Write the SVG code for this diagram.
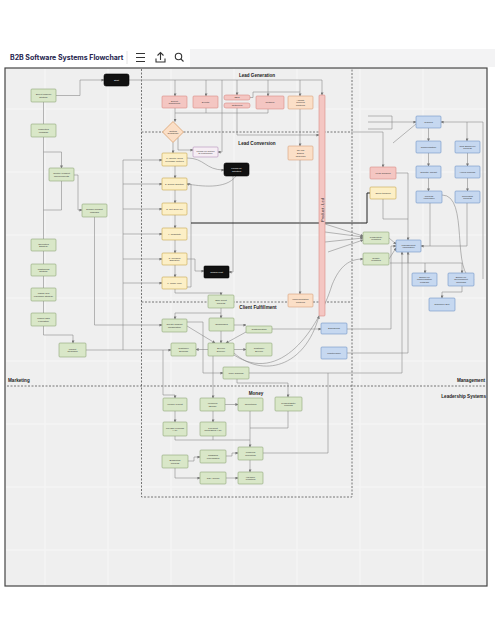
<svg xmlns="http://www.w3.org/2000/svg" width="495" height="640" viewBox="0 0 495 640">
<style>
.g{fill:#d9e7c8;stroke:#8ea577;stroke-width:.6}
.p{fill:#f4c6c2;stroke:#d98a84;stroke-width:.6}
.y{fill:#fcefc6;stroke:#c7a64a;stroke-width:.6}
.b{fill:#c6d8f0;stroke:#6f93c6;stroke-width:.6}
.o{fill:#fbdfc7;stroke:#d7a07a;stroke-width:.6}
.k{fill:#111;stroke:#000;stroke-width:.6}
.l{fill:#f6eef4;stroke:#b48fb8;stroke-width:.6}
text{font-family:"Liberation Sans",Arial,sans-serif}
.t{font-size:2.4px;fill:#333;text-anchor:middle}
.tw{font-size:2.4px;fill:#fff;text-anchor:middle}
.h{font-size:4.6px;font-weight:bold;fill:#222;text-anchor:middle}
.c{fill:none;stroke:#8a8a8a;stroke-width:.6;marker-end:url(#a)}
.n{fill:none;stroke:#8a8a8a;stroke-width:.6}
.d{fill:none;stroke:#555;stroke-width:.8;stroke-dasharray:2 1.5}
.gr{stroke:#f5f5f5;stroke-width:1.5}
</style>
<defs>
<marker id="a" markerUnits="userSpaceOnUse" markerWidth="3" markerHeight="3" refX="2.6" refY="1.5" orient="auto"><path d="M0,0 L3,1.5 L0,3 z" fill="#777"/></marker>
</defs>
<rect width="495" height="640" fill="#fff"/>
<!-- header -->
<rect x="190" y="49" width="305" height="18" fill="#f3f3f4"/>
<text x="10" y="60" font-size="7" font-weight="bold" fill="#24234d" style="font-family:Inter,'Liberation Sans',sans-serif">B2B Software Systems Flowchart</text>
<line x1="127" y1="51" x2="127" y2="64" stroke="#ddd" stroke-width=".8"/>
<g stroke="#333" stroke-width="1.1" fill="none">
<path d="M136,53.5H145M136,57.5H145M136,61.5H145"/>
<path d="M160.5,60V52.5M157.5,55.5L160.5,52.5L163.5,55.5M156,58.5V62H165V58.5"/>
<circle cx="178.5" cy="56.5" r="3.2"/><path d="M180.8,58.8L183.5,61.5"/>
</g>
<!-- frame -->
<rect x="5" y="68" width="482" height="518" fill="#efefef" stroke="#444" stroke-width="1.2"/>
<g class="gr">
<line x1="45" y1="69" x2="45" y2="585"/><line x1="108" y1="69" x2="108" y2="585"/><line x1="171" y1="69" x2="171" y2="585"/><line x1="234" y1="69" x2="234" y2="585"/><line x1="297" y1="69" x2="297" y2="585"/><line x1="360" y1="69" x2="360" y2="585"/><line x1="423" y1="69" x2="423" y2="585"/>
<line x1="6" y1="109" x2="486" y2="109"/><line x1="6" y1="172" x2="486" y2="172"/><line x1="6" y1="235" x2="486" y2="235"/><line x1="6" y1="298" x2="486" y2="298"/><line x1="6" y1="361" x2="486" y2="361"/><line x1="6" y1="424" x2="486" y2="424"/><line x1="6" y1="487" x2="486" y2="487"/><line x1="6" y1="550" x2="486" y2="550"/>
</g>
<!-- section boundaries -->
<g id="sections">
<path class="d" d="M141.5,69V497H352V69"/>
<path class="d" d="M141.5,132H352"/>
<path class="d" d="M141.5,302H352"/>
<path class="d" d="M7,386H485"/>
<text class="h" x="257" y="77">Lead Generation</text>
<text class="h" x="257" y="145">Lead Conversion</text>
<text class="h" x="258" y="309" font-size="5">Client Fulfillment</text>
<text class="h" x="256" y="395">Money</text>
<text class="h" x="8" y="382" style="text-anchor:start">Marketing</text>
<text class="h" x="485" y="382" style="text-anchor:end">Management</text>
<text class="h" x="486" y="398" style="text-anchor:end">Leadership Systems</text>
</g>
<!-- connectors -->
<g id="connectors">
<path class="c" d="M56,95.5H80V80H104"/>
<path class="c" d="M129,80H322V95"/>
<path class="c" d="M175,80V96"/><path class="c" d="M206,80V96"/><path class="c" d="M237,80V95"/><path class="c" d="M268,80V96"/><path class="c" d="M300,80V96"/>
<path class="c" d="M222,80V152H218"/>
<path class="n" d="M250,97.5H253V92H300"/>
<path class="n" d="M206,108V113"/><path class="c" d="M268,109V113H175V121.5"/>
<path class="n" d="M175,108V113"/>
<path class="c" d="M237,108V135H319"/>
<path class="c" d="M300,109V146"/>
<path class="c" d="M173,142.5V153"/>
<path class="c" d="M178,137.5V150H193"/>
<path class="c" d="M352,132H383V167"/>
<path class="c" d="M175,166V178"/><path class="c" d="M175,190V203"/><path class="c" d="M175,215V228"/><path class="c" d="M175,240V253"/><path class="c" d="M175,265V277"/>
<path class="n" d="M86,350H123V160"/>
<path class="c" d="M123,160H162"/><path class="c" d="M123,184H162"/><path class="c" d="M123,209H162"/><path class="c" d="M123,234H162"/><path class="c" d="M123,259H162"/><path class="c" d="M123,283H162"/>
<path class="c" d="M123,350H171"/>
<path class="c" d="M163,350V395H175V398"/>
<path class="n" d="M43.5,102V124"/><path class="n" d="M43.5,137V239"/><path class="n" d="M43.5,251V264"/><path class="n" d="M43.5,276V288"/><path class="n" d="M43.5,301V313"/>
<path class="c" d="M43.5,152H61.5V168"/>
<path class="n" d="M61.5,181V210H43.5"/>
<path class="c" d="M74,175H78V210H82"/>
<path class="c" d="M43.5,326V335H73V343"/>
<path class="c" d="M94.5,217V325H162"/>
<path class="c" d="M187,158C205,158 205,170 224,170"/>
<path class="c" d="M236,176C226,190 200,186 187,184"/>
<path class="c" d="M233,176V272H229"/>
<path class="c" d="M187,259H195V271H204"/>
<path class="n" d="M187,184H191V287H187"/>
<path d="M191,223H367V193H370" fill="none" stroke="#222" stroke-width="1"/>
<path class="c" d="M175,289V293H221V295"/>
<path class="c" d="M300,160V294"/>
<path class="c" d="M221,308V318"/>
<path class="c" d="M221,313H175V319"/>
<path class="c" d="M187,326L215,343"/>
<path class="c" d="M187,322H203V373H223"/>
<path class="c" d="M221,331V343"/>
<path class="c" d="M234,325H246"/>
<path class="c" d="M246,332L226,343"/>
<path class="c" d="M272,329H321"/>
<path class="c" d="M208,349.5H196"/>
<path class="c" d="M234,349.5H246"/>
<path class="c" d="M213,356V398"/>
<path class="c" d="M237,379V383H288V397"/>
<path class="c" d="M249,373H402V252"/>
<path class="c" d="M347,353H408V252"/>
<path class="c" d="M347,329H391V246H396"/>
<path class="c" d="M234,353C262,378 305,368 319,316"/>
<path class="c" d="M234,355C280,385 318,330 332,285C340,265 350,259 363,259"/>
<path class="c" d="M325,224L363,236"/><path class="c" d="M325,232L363,237"/><path class="c" d="M325,242L363,238"/><path class="c" d="M328,252L363,240"/>
<path class="c" d="M389,238L396,244"/><path class="c" d="M389,259L396,248"/>
<path class="c" d="M175,411V422"/><path class="c" d="M213,411V422"/><path class="c" d="M225,404.5H238"/>
<path class="n" d="M175,436V440H250"/><path class="n" d="M213,436V440"/>
<path class="c" d="M250,411V447"/>
<path class="n" d="M288,411V428H250"/>
<path class="c" d="M188,461H194V457H200"/>
<path class="c" d="M175,468V478H200"/>
<path class="c" d="M226,478H238"/>
<path class="c" d="M226,456H232V453H238"/>
<path class="c" d="M250,460V472"/>
<path class="n" d="M263,453H328V373"/>
<path class="c" d="M396,173H408V240"/>
<path class="n" d="M383,199V219H408"/>
<path class="n" d="M408,252V263"/>
<path class="n" d="M390,263H462"/><path class="c" d="M425,263V273"/><path class="c" d="M462,263V273"/>
<path class="c" d="M430,203V246H421"/>
<path class="n" d="M467,203V246H430"/>
<path class="c" d="M442,195C470,195 450,275 474,280"/>
<path class="c" d="M483,279V122H441"/>
<path class="c" d="M467,122V141"/>
<path class="c" d="M428.5,128V141"/><path class="c" d="M428.5,153V166"/><path class="c" d="M428.5,178V191"/>
<path class="c" d="M467.5,153V166"/><path class="c" d="M467.5,178V191"/>
<path class="n" d="M368,116H392M368,122H392M368,129H392M392,116V129"/>
<path class="c" d="M392,122H416"/>
<path class="n" d="M416,124L393,143"/>
<path class="c" d="M462,286V292H442V298"/>
</g>
<!-- marketing -->
<g id="mk1"><rect class="g" x="31" y="89" width="25" height="13" rx="1"/><text class="t"><tspan x="43.5" y="95">Select channel</tspan><tspan x="43.5" y="97.8">strategy</tspan></text></g>
<g id="mk2"><rect class="g" x="31" y="124" width="25" height="13" rx="1"/><text class="t"><tspan x="43.5" y="130">Marketing</tspan><tspan x="43.5" y="132.8">Message</tspan></text></g>
<g id="mk3"><rect class="g" x="49" y="168" width="25" height="13" rx="1"/><text class="t"><tspan x="61.5" y="174">Identify Product</tspan><tspan x="61.5" y="176.8">Improvements</tspan></text></g>
<g id="mk4"><rect class="g" x="82" y="204" width="25" height="13" rx="1"/><text class="t"><tspan x="94.5" y="210">Design Product</tspan><tspan x="94.5" y="212.8">changes</tspan></text></g>
<g id="mk5"><rect class="g" x="31" y="239" width="25" height="12" rx="1"/><text class="t"><tspan x="43.5" y="244.5">Operating</tspan><tspan x="43.5" y="247.3">Strategy</tspan></text></g>
<g id="mk6"><rect class="g" x="31" y="264" width="25" height="12" rx="1"/><text class="t"><tspan x="43.5" y="269.5">Positioning</tspan><tspan x="43.5" y="272.3">strategy</tspan></text></g>
<g id="mk7"><rect class="g" x="31" y="288" width="25" height="13" rx="1"/><text class="t"><tspan x="43.5" y="294">Usage and</tspan><tspan x="43.5" y="296.8">economic strategy</tspan></text></g>
<g id="mk8"><rect class="g" x="31" y="313" width="25" height="13" rx="1"/><text class="t"><tspan x="43.5" y="319">Market data</tspan><tspan x="43.5" y="321.8">evaluation</tspan></text></g>
<g id="mk9"><rect class="g" x="59" y="343" width="27" height="14" rx="1"/><text class="t"><tspan x="72.5" y="349.5">Market</tspan><tspan x="72.5" y="352.3">Research</tspan></text></g>
<g id="start"><rect class="k" x="104" y="74" width="25" height="12" rx="2"/><text class="tw" x="116.5" y="80.9">Start</text></g>
<!-- lead generation -->
<g id="lg1"><rect class="p" x="162" y="96" width="25" height="12" rx="1"/><text class="t"><tspan x="174.5" y="101.5">Expert</tspan><tspan x="174.5" y="104.3">Community</tspan></text></g>
<g id="lg2"><rect class="p" x="193" y="96" width="25" height="12" rx="1"/><text class="t" x="205.5" y="102.9">Events</text></g>
<g id="lg3"><rect class="p" x="224" y="95" width="26" height="5" rx="2"/><text class="t" x="237" y="98.4">SEO</text></g>
<g id="lg4"><rect class="p" x="224" y="103" width="26" height="5" rx="2"/><text class="t" x="237" y="106.4">Outbound</text></g>
<g id="lg5"><rect class="p" x="256" y="96" width="28" height="13" rx="1"/><text class="t" x="270" y="103.4">Network</text></g>
<g id="lg6"><rect class="o" x="288" y="96" width="25" height="13" rx="1"/><text class="t"><tspan x="300.5" y="100.6">Affiliate</tspan><tspan x="300.5" y="103.4">Referral</tspan><tspan x="300.5" y="106.2">Partners</tspan></text></g>
<g id="plg"><rect class="p" x="319" y="95" width="6" height="221" rx="1"/><text class="t" transform="translate(323.5,210) rotate(-90)" x="0" y="0" style="font-size:4px">Product - Led</text></g>
<g id="qual"><path class="o" d="M173,121.5L183.5,132L173,142.5L162.5,132Z" style="stroke:#d08a4a"/><text class="t"><tspan x="173" y="131.5">Getting</tspan><tspan x="173" y="134.3">Qualified?</tspan></text></g>
<g id="fu"><rect class="l" x="193" y="147" width="25" height="10" rx="1"/><text class="t"><tspan x="205.5" y="151.5">Follow-up Return</tspan><tspan x="205.5" y="154.3">to nurturance</tspan></text></g>
<g id="oc"><rect class="o" x="288" y="146" width="25" height="14" rx="1"/><text class="t"><tspan x="300.5" y="151.1">On-call</tspan><tspan x="300.5" y="153.9">Based</tspan><tspan x="300.5" y="156.7">Referrals</tspan></text></g>
<!-- lead conversion -->
<g id="c1"><rect class="y" x="162" y="153" width="25" height="13" rx="1"/><text class="t"><tspan x="174.5" y="159">1. Identify Need</tspan><tspan x="174.5" y="161.8">Purchase Criteria</tspan></text></g>
<g id="c2"><rect class="y" x="162" y="178" width="25" height="12" rx="1"/><text class="t" x="174.5" y="184.9">2. Define Solution</text></g>
<g id="c3"><rect class="y" x="162" y="203" width="25" height="12" rx="1"/><text class="t" x="174.5" y="209.9">3. Get Tech Ver</text></g>
<g id="c4"><rect class="y" x="162" y="228" width="25" height="12" rx="1"/><text class="t" x="174.5" y="234.9">4. Negotiate</text></g>
<g id="c5"><rect class="y" x="162" y="253" width="25" height="12" rx="1"/><text class="t"><tspan x="174.5" y="258.5">5. Pending</tspan><tspan x="174.5" y="261.3">Signature</tspan></text></g>
<g id="c6"><rect class="y" x="162" y="277" width="25" height="12" rx="1"/><text class="t" x="174.5" y="283.9">6. Close Won</text></g>
<g id="fa"><rect class="k" x="224" y="163" width="25" height="13" rx="2"/><text class="tw"><tspan x="236.5" y="169">Follow-up</tspan><tspan x="236.5" y="171.8">activities</tspan></text></g>
<g id="cl"><rect class="k" x="204" y="266" width="25" height="12" rx="1"/><text class="tw" x="216.5" y="272.9">Closed Lost</text></g>
<!-- client fulfillment -->
<g id="sc"><rect class="g" x="208" y="295" width="26" height="13" rx="1"/><text class="t"><tspan x="221" y="301">Sign Client</tspan><tspan x="221" y="303.8">Process</tspan></text></g>
<g id="ip"><rect class="o" x="288" y="294" width="25" height="13" rx="1"/><text class="t"><tspan x="300.5" y="300">Implementation</tspan><tspan x="300.5" y="302.8">Partners</tspan></text></g>
<g id="f1"><rect class="g" x="162" y="319" width="25" height="13" rx="1"/><text class="t"><tspan x="174.5" y="325">Create product</tspan><tspan x="174.5" y="327.8">modification</tspan></text></g>
<g id="f2"><rect class="g" x="209" y="318" width="25" height="13" rx="1"/><text class="t" x="221.5" y="325.4">Onboarding</text></g>
<g id="f3"><rect class="g" x="246" y="326" width="26" height="7" rx="1"/><text class="t" x="259" y="330.4">Customization</text></g>
<g id="f4"><rect class="g" x="171" y="343" width="25" height="13" rx="1"/><text class="t"><tspan x="183.5" y="349">Customer</tspan><tspan x="183.5" y="351.8">Success</tspan></text></g>
<g id="f5"><rect class="g" x="208" y="343" width="26" height="13" rx="1"/><text class="t"><tspan x="221" y="349">Service</tspan><tspan x="221" y="351.8">Delivery</tspan></text></g>
<g id="f6"><rect class="g" x="246" y="343" width="26" height="13" rx="1"/><text class="t"><tspan x="259" y="349">Customer</tspan><tspan x="259" y="351.8">Service</tspan></text></g>
<g id="f7"><rect class="g" x="223" y="367" width="26" height="12" rx="1"/><text class="t" x="236" y="373.9">Time Tracking</text></g>
<!-- money -->
<g id="m1"><rect class="g" x="163" y="398" width="24" height="13" rx="1"/><text class="t" x="175" y="405.4">Invoice receipt</text></g>
<g id="m2"><rect class="g" x="200" y="398" width="25" height="13" rx="1"/><text class="t"><tspan x="212.5" y="404">Invoicing</tspan><tspan x="212.5" y="406.8">(Billing)</tspan></text></g>
<g id="m3"><rect class="g" x="238" y="398" width="25" height="13" rx="1"/><text class="t" x="250.5" y="405.4">Collections</text></g>
<g id="m4"><rect class="g" x="275" y="397" width="27" height="14" rx="1"/><text class="t"><tspan x="288.5" y="403.5">Product/Entry</tspan><tspan x="288.5" y="406.3">process</tspan></text></g>
<g id="m5"><rect class="g" x="163" y="422" width="24" height="14" rx="1"/><text class="t"><tspan x="175" y="428.5">Payable Process</tspan><tspan x="175" y="431.3">(AP)</tspan></text></g>
<g id="m6"><rect class="g" x="200" y="422" width="26" height="14" rx="1"/><text class="t"><tspan x="213" y="428.5">Payment</tspan><tspan x="213" y="431.3">processing (AR)</tspan></text></g>
<g id="m7"><rect class="g" x="238" y="447" width="25" height="13" rx="1"/><text class="t"><tspan x="250.5" y="453">Financial</tspan><tspan x="250.5" y="455.8">Reporting</tspan></text></g>
<g id="m8"><rect class="g" x="162" y="455" width="26" height="13" rx="1"/><text class="t"><tspan x="175" y="461">Budgeting</tspan><tspan x="175" y="463.8">Process</tspan></text></g>
<g id="m9"><rect class="g" x="200" y="450" width="26" height="13" rx="1"/><text class="t"><tspan x="213" y="456">Cashflow</tspan><tspan x="213" y="458.8">Forecasting</tspan></text></g>
<g id="m10"><rect class="g" x="200" y="472" width="26" height="12" rx="1"/><text class="t" x="213" y="478.9">COA Recon</text></g>
<g id="m11"><rect class="g" x="238" y="472" width="25" height="12" rx="1"/><text class="t"><tspan x="250.5" y="477.5">Variance</tspan><tspan x="250.5" y="480.3">reporting</tspan></text></g>
<!-- management -->
<g id="r1"><rect class="b" x="416" y="116" width="25" height="12" rx="1"/><text class="t" x="428.5" y="122.9">Training</text></g>
<g id="r2"><rect class="b" x="416" y="141" width="25" height="12" rx="1"/><text class="t" x="428.5" y="147.9">Compensation</text></g>
<g id="r3"><rect class="b" x="455" y="141" width="25" height="12" rx="1"/><text class="t"><tspan x="467.5" y="146.5">New Employee</tspan><tspan x="467.5" y="149.3">Process</tspan></text></g>
<g id="r4"><rect class="b" x="416" y="166" width="25" height="12" rx="1"/><text class="t" x="428.5" y="172.9">Quantify Impact</text></g>
<g id="r5"><rect class="b" x="455" y="166" width="25" height="12" rx="1"/><text class="t" x="467.5" y="172.9">Hiring Process</text></g>
<g id="r6"><rect class="b" x="416" y="191" width="26" height="12" rx="1"/><text class="t"><tspan x="429" y="196.5">Process</tspan><tspan x="429" y="199.3">Innovation</tspan></text></g>
<g id="r7"><rect class="b" x="455" y="191" width="25" height="12" rx="1"/><text class="t"><tspan x="467.5" y="196.5">Recording</tspan><tspan x="467.5" y="199.3">Process</tspan></text></g>
<g id="lt"><rect class="p" x="370" y="167" width="26" height="12" rx="1"/><text class="t" x="383" y="173.9">Lead Tracking</text></g>
<g id="st"><rect class="y" x="370" y="187" width="26" height="12" rx="1"/><text class="t" x="383" y="193.9">Sales tracking</text></g>
<g id="pr"><rect class="g" x="363" y="232" width="26" height="12" rx="1"/><text class="t"><tspan x="376" y="237.5">Productivity</tspan><tspan x="376" y="240.3">reporting</tspan></text></g>
<g id="qr"><rect class="g" x="363" y="253" width="26" height="12" rx="1"/><text class="t"><tspan x="376" y="258.5">Quality</tspan><tspan x="376" y="261.3">reporting</tspan></text></g>
<g id="mi"><rect class="b" x="396" y="240" width="25" height="12" rx="1"/><text class="t"><tspan x="408.5" y="245.5">Management</tspan><tspan x="408.5" y="248.3">Information</tspan></text></g>
<g id="ec"><rect class="b" x="412" y="273" width="25" height="13" rx="1"/><text class="t"><tspan x="424.5" y="277.6">Employee</tspan><tspan x="424.5" y="280.4">compensation</tspan><tspan x="424.5" y="283.2">program</tspan></text></g>
<g id="ed"><rect class="b" x="448" y="273" width="26" height="13" rx="1"/><text class="t"><tspan x="461" y="277.6">Employee</tspan><tspan x="461" y="280.4">development</tspan><tspan x="461" y="283.2">meetings</tspan></text></g>
<g id="de"><rect class="b" x="429" y="298" width="26" height="13" rx="1"/><text class="t" x="442" y="305.4">Discipline Exit</text></g>
<g id="sch"><rect class="b" x="321" y="323" width="26" height="11" rx="1"/><text class="t" x="334" y="329.4">Scheduling</text></g>
<g id="mt"><rect class="b" x="321" y="347" width="26" height="12" rx="1"/><text class="t" x="334" y="353.9">Maintenance</text></g>
</svg>
